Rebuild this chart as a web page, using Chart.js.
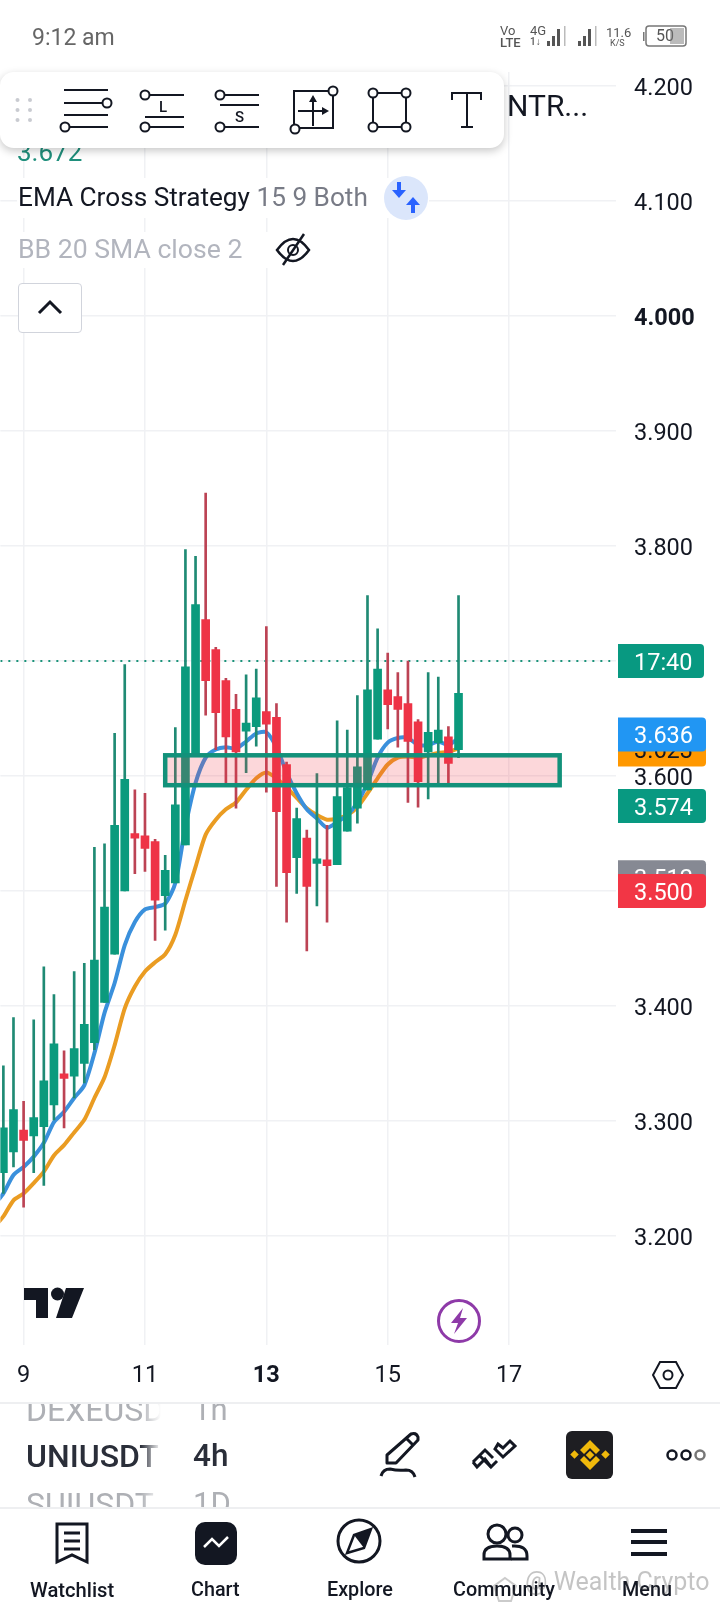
<!DOCTYPE html>
<html><head><meta charset="utf-8">
<script src="https://cdn.jsdelivr.net/npm/chart.js@4"></script>
<style>
html,body{margin:0;padding:0;background:#fff;width:720px;height:1611px;overflow:hidden;font-family:Roboto,sans-serif}
#c{position:absolute;left:0;top:0;width:720px;height:1611px}
.t{position:absolute;white-space:nowrap;line-height:1;color:#131722}
.w{background:#fff}
.card{position:absolute;left:0;top:72px;width:504px;height:76px;background:#fff;border-radius:14px;box-shadow:0 3px 8px rgba(0,0,0,.22)}
svg.ov{position:absolute;left:0;top:0;pointer-events:none}
.fade{width:135px;overflow:hidden;-webkit-mask-image:linear-gradient(90deg,#000 85%,transparent);mask-image:linear-gradient(90deg,#000 85%,transparent)}
</style></head><body>
<canvas id="c" width="720" height="1611"></canvas>

<div class="t" style="left:17px;top:139px;font-size:26px;color:#1f8f7c">3.672</div>
<div class="w" style="position:absolute;left:17px;top:178px;width:412px;height:40px"></div>
<div class="w" style="position:absolute;left:17px;top:232px;width:300px;height:36px"></div>
<div class="t" style="left:18px;top:184px;font-size:26.2px">EMA Cross Strategy <span style="color:#787b86">15 9 Both</span></div>
<div class="t" style="left:18px;top:236px;font-size:26.6px;color:#b2b5be">BB 20 SMA close 2</div>
<div style="position:absolute;left:18px;top:283px;width:64px;height:50px;border:1px solid #d1d4dc;border-radius:4px;background:#fff;box-sizing:border-box"></div>

<div class="card"></div>
<div class="t" style="left:507px;top:91px;font-size:30px">NTR...</div>

<div class="t" style="left:32px;top:26px;font-size:23px;color:#666">9:12 am</div>
<div class="t" style="left:500px;top:24px;font-size:13px;color:#555">Vo</div>
<div class="t" style="left:500px;top:36px;font-size:13px;color:#555;font-weight:500">LTE</div>
<div class="t" style="left:530px;top:24px;font-size:13px;color:#555">4G</div>
<div class="t" style="left:530px;top:37px;font-size:10px;color:#555;font-weight:500">1↓</div>
<div class="t" style="left:606px;top:26px;font-size:13px;color:#555">11.6</div>
<div class="t" style="left:610px;top:39px;font-size:9px;color:#555">K/S</div>
<div class="t" style="left:656px;top:28px;font-size:16px;color:#555">50</div>

<div style="position:absolute;left:0;top:1402px;width:720px;height:107px;overflow:hidden;border-top:2px solid #eeeff1;border-bottom:2px solid #eeeff1;box-sizing:border-box">
<div class="t fade" style="left:26px;top:-10px;font-size:32px;color:#aeb0b5">DEXEUSDT</div>
<div class="t" style="left:193px;top:-10px;font-size:31px;color:#aeb0b5">1h</div>
<div class="t fade" style="left:26px;top:36px;font-size:32px;font-weight:500;color:#2a2e39">UNIUSDT</div>
<div class="t" style="left:193px;top:36px;font-size:31.5px;font-weight:500;color:#2a2e39">4h</div>
<div class="t fade" style="left:26px;top:84px;font-size:32px;color:#aeb0b5">SUIUSDT</div>
<div class="t" style="left:193px;top:84px;font-size:31px;color:#aeb0b5">1D</div>
</div>

<div class="t" style="left:30px;top:1580px;font-size:20.2px;font-weight:500">Watchlist</div>
<div class="t" style="left:191px;top:1580px;font-size:19.8px;font-weight:500">Chart</div>
<div class="t" style="left:327px;top:1580px;font-size:19.8px;font-weight:500">Explore</div>
<div class="t" style="left:453px;top:1580px;font-size:19.8px;font-weight:500">Community</div>
<div class="t" style="left:622px;top:1580px;font-size:19.8px;font-weight:500">Menu</div>
<div class="t" style="left:525px;top:1569px;font-size:25px;color:rgba(70,70,70,.32)">@ Wealth Crypto</div>

<svg class="ov" width="720" height="1611" viewBox="0 0 720 1611" fill="none" stroke="#131722" stroke-width="2">
<!-- status bars -->
<g stroke="none" fill="#555"><rect x="547" y="41" width="3" height="5"/><rect x="552" y="36" width="3" height="10"/><rect x="557" y="29" width="3" height="17"/><rect x="564" y="26" width="1.5" height="20" fill="#bbb"/>
<rect x="578" y="41" width="3" height="5"/><rect x="583" y="36" width="3" height="10"/><rect x="588" y="29" width="3" height="17"/><rect x="595" y="26" width="1.5" height="20" fill="#bbb"/></g>
<rect x="646" y="26" width="40" height="20" rx="3" stroke="#777" stroke-width="1.5"/><rect x="670" y="28" width="14" height="16" fill="rgba(120,120,120,.5)" stroke="none"/><rect x="643" y="32" width="1.5" height="9" fill="#777" stroke="none"/>
<!-- drag dots -->
<g fill="#c9cbd1" stroke="none"><circle cx="17.5" cy="100" r="2"/><circle cx="30" cy="100" r="2"/><circle cx="17.5" cy="110" r="2"/><circle cx="30" cy="110" r="2"/><circle cx="17.5" cy="120" r="2"/><circle cx="30" cy="120" r="2"/></g>
<!-- tool 1 -->
<path d="M64 90H108M64 103H102M64 115H108M69 127H108"/><circle cx="107" cy="103" r="4.5" fill="#fff"/><circle cx="65" cy="127" r="4.5" fill="#fff"/>
<!-- tool 2 -->
<path d="M149 95H184M145 117H184M149 127H184"/><circle cx="145" cy="95" r="4.5" fill="#fff"/><circle cx="145" cy="127" r="4.5" fill="#fff"/>
<!-- tool 3 -->
<path d="M224 95H259M220 105H259M224 127H259"/><circle cx="220" cy="95" r="4.5" fill="#fff"/><circle cx="220" cy="127" r="4.5" fill="#fff"/>
<!-- tool 4 -->
<path d="M294 91H333V128H294ZM313 97V126M298 111H327"/><path d="M313 95l-4 7h8zM329 111l-7-4v8z" fill="#131722" stroke="none"/><circle cx="333" cy="91" r="4.5" fill="#fff"/><circle cx="295" cy="129" r="4.5" fill="#fff"/>
<!-- tool 5 -->
<rect x="373" y="93" width="33" height="34"/><circle cx="373" cy="93" r="4.5" fill="#fff"/><circle cx="406" cy="93" r="4.5" fill="#fff"/><circle cx="373" cy="127" r="4.5" fill="#fff"/><circle cx="406" cy="127" r="4.5" fill="#fff"/>
<!-- tool 6 -->
<path d="M452 100V93H481V100M467 93V127M461 127H473"/>
<!-- cross badge -->
<circle cx="406" cy="198" r="22" fill="#dbe6fb" stroke="none"/>
<path d="M399 182V192M413 203V213" stroke="#2962ff" stroke-width="4"/><path d="M392 190h14l-7 8zM406 205h14l-7-8z" fill="#2962ff" stroke="none"/>
<!-- eye -->
<path d="M277 250Q293 228 309 250Q293 272 277 250Z" stroke-width="2.5"/><path d="M283 265L304 234" stroke-width="2.5"/><circle cx="293" cy="250" r="5" stroke-width="2"/>
<!-- chevron -->
<path d="M39 313L50 302L61 313" stroke-width="3"/>
<!-- TV logo -->
<g fill="#131722" stroke="none"><path d="M24 1288H48V1318H36V1300H24Z"/><circle cx="57.5" cy="1294" r="6.5"/><path d="M66 1288H84L72 1318H56Z"/></g>
<!-- lightning -->
<circle cx="459" cy="1321" r="20.5" stroke="#8e3aa8" stroke-width="3"/><path d="M463 1308L451 1323H458L454 1334L467 1318H460Z" fill="#8e3aa8" stroke="none"/>
<!-- settings hex -->
<path d="M660 1362H676L683 1375L676 1388H660L653 1375Z" stroke-width="2"/><circle cx="668" cy="1375" r="4.5"/>
<!-- pencil -->
<path d="M387 1463V1455L411 1434Q416 1432 418 1437V1440L396 1463ZM406 1438L414 1446" stroke-width="3" stroke-linejoin="round"/><path d="M381 1476Q383 1469 390 1469Q398 1471 406 1470Q413 1470 415 1477" stroke-width="3"/>
<!-- tracks -->
<path d="M473 1462L485 1450L493 1458M491 1467L480 1456M495 1449L503 1457L515 1446L510 1441L503 1448L498 1444Z" stroke-width="3"/><path d="M473 1462L477 1467L485 1459L491 1467L497 1461" stroke-width="3"/>
<!-- binance -->
<rect x="566" y="1431" width="47" height="48" rx="6" fill="#1e1e22" stroke="none"/>
<g fill="#f0b90b" stroke="none"><path d="M590 1440L600 1450L596 1454L590 1448L584 1454L580 1450Z"/><path d="M590 1470L600 1460L596 1456L590 1462L584 1456L580 1460Z"/><rect x="571.5" y="1451.5" width="6" height="6" transform="rotate(45 574.5 1454.5)"/><rect x="602.5" y="1451.5" width="6" height="6" transform="rotate(45 605.5 1454.5)"/><rect x="587" y="1452" width="6" height="6" transform="rotate(45 590 1455)"/></g>
<!-- more -->
<g stroke-width="2.5"><circle cx="672" cy="1455" r="4.5"/><circle cx="686" cy="1455" r="4.5"/><circle cx="700" cy="1455" r="4.5" stroke="#777"/></g>
<!-- nav -->
<path d="M57 1524H87V1562L72 1555L57 1562Z" stroke-width="3"/><path d="M64 1533H80M64 1541H80M64 1549H80" stroke-width="3"/>
<rect x="195" y="1522" width="42" height="43" rx="10" fill="#131722" stroke="none"/><path d="M204 1547L212 1539L219 1546L228 1537" stroke="#fff" stroke-width="2.5"/>
<circle cx="359" cy="1541" r="21" stroke-width="3"/><path d="M371 1529L364 1548L347 1553L354 1535Z" stroke-width="2.5"/><path d="M371 1529L364 1548L354 1535Z" fill="#131722" stroke="none"/>
<circle cx="497" cy="1534" r="9" stroke-width="3"/><circle cx="515" cy="1535" r="7" stroke-width="3"/><path d="M484 1559V1555Q484 1546 497 1546Q510 1546 510 1555V1559Z" stroke-width="3"/><path d="M512 1546Q527 1545 527 1556V1559H511" stroke-width="3"/>
<path d="M631 1531H667M631 1542H667M631 1554H667" stroke-width="4"/>
<!-- watermark mark -->
<path d="M505 1578L516 1586L511 1601H499L494 1586Z" stroke="rgba(70,70,70,.28)" stroke-width="2"/>
</svg>
<div class="t" style="left:159px;top:100px;font-size:15px;font-weight:500">L</div>
<div class="t" style="left:235px;top:110px;font-size:15px;font-weight:500">S</div>

<script>
const candleIndex=[-2,-1,0,1,2,3,4,5,6,7,8,9,10,11,12,13,14,15,16,17,18,19,20,21,22,23,24,25,26,27,28,29,30,31,32,33,34,35,36,37,38,39,40,41,42,43];
const opens=[3.255,3.273,3.292,3.287,3.295,3.314,3.341,3.339,3.350,3.368,3.403,3.445,3.500,3.550,3.548,3.543,3.496,3.507,3.540,3.617,3.736,3.710,3.683,3.658,3.639,3.643,3.656,3.651,3.610,3.529,3.546,3.524,3.527,3.523,3.552,3.572,3.588,3.632,3.675,3.669,3.663,3.647,3.621,3.629,3.634,3.623];
const highs=[3.348,3.390,3.317,3.388,3.434,3.410,3.361,3.430,3.437,3.538,3.541,3.637,3.697,3.588,3.585,3.545,3.531,3.642,3.797,3.791,3.846,3.712,3.685,3.671,3.688,3.693,3.730,3.663,3.612,3.572,3.553,3.602,3.557,3.648,3.640,3.670,3.757,3.728,3.707,3.690,3.700,3.649,3.690,3.686,3.643,3.757];
const lows=[3.237,3.260,3.225,3.255,3.244,3.301,3.294,3.320,3.333,3.362,3.403,3.445,3.500,3.515,3.517,3.457,3.466,3.507,3.540,3.617,3.653,3.623,3.594,3.572,3.603,3.626,3.586,3.504,3.473,3.498,3.448,3.487,3.473,3.523,3.552,3.559,3.588,3.632,3.641,3.625,3.577,3.573,3.580,3.594,3.594,3.616];
const closes=[3.294,3.310,3.283,3.303,3.335,3.367,3.337,3.363,3.384,3.440,3.486,3.557,3.597,3.546,3.537,3.492,3.518,3.575,3.695,3.749,3.683,3.655,3.634,3.621,3.646,3.668,3.645,3.569,3.516,3.563,3.504,3.528,3.522,3.582,3.590,3.608,3.675,3.693,3.662,3.658,3.630,3.595,3.638,3.640,3.611,3.672];
const emaIndex=[-3].concat(candleIndex);
const emaFast=[3.226,3.237,3.253,3.260,3.269,3.281,3.299,3.308,3.320,3.331,3.359,3.394,3.420,3.453,3.473,3.484,3.486,3.489,3.507,3.556,3.594,3.616,3.623,3.625,3.624,3.630,3.637,3.638,3.625,3.603,3.585,3.571,3.563,3.555,3.560,3.566,3.577,3.594,3.616,3.629,3.633,3.633,3.627,3.627,3.630,3.627,3.633];
const emaSlow=[3.207,3.217,3.231,3.237,3.246,3.256,3.270,3.279,3.290,3.301,3.320,3.338,3.366,3.398,3.417,3.430,3.438,3.445,3.462,3.492,3.521,3.549,3.562,3.571,3.577,3.588,3.598,3.603,3.598,3.590,3.581,3.572,3.566,3.562,3.563,3.566,3.573,3.585,3.598,3.610,3.616,3.617,3.616,3.618,3.620,3.621,3.624];
const priceLine=3.7;
const boxRange=[14,53,3.592,3.618];
const tagLabels=["3.512","3.500","3.623","3.636","3.574","17:40"];
const tagValues=[3.512,3.5,3.623,3.636,3.574,3.7];
const tagColors=["#868993","#f23645","#ff9800","#2196f3","#089981","#089981"];
const tagInk=["#fff","#fff","#131722","#fff","#fff","#fff"];
const dayStart=9, candlesPerDay=6;

const GREEN="#0b9a7d",RED="#ee3346",GW="#1f8a74",RW="#bc4354";
const up=opens.map((o,i)=>closes[i]>=o);
const xMin=-2.3,xMax=58.57,yMin=3.1052,yMax=4.2122;

const overlay={id:"overlay",afterDatasetsDraw(ch){
  const c=ch.ctx,x=ch.scales.x,y=ch.scales.y;
  const l=x.getPixelForValue(boxRange[0]),r=x.getPixelForValue(boxRange[1]);
  const b=y.getPixelForValue(boxRange[2]),t=y.getPixelForValue(boxRange[3]);
  c.save();c.fillStyle="rgba(242,54,69,0.2)";c.fillRect(l,t,r-l,b-t);
  c.strokeStyle="#12917a";c.lineWidth=4.5;c.strokeRect(l,t,r-l,b-t);c.restore();
},afterDraw(ch){
  const c=ch.ctx,y=ch.scales.y;
  c.save();c.font="23.5px Roboto";c.textAlign="left";c.textBaseline="middle";
  tagLabels.forEach((s,i)=>{
    const p=y.getPixelForValue(tagValues[i]);
    c.fillStyle=tagColors[i];c.beginPath();c.roundRect(618,p-17,i==5?86:88,34,[0,4,4,0]);c.fill();
    c.fillStyle=tagInk[i];c.fillText(s,634,p+3);
  });
  c.restore();
}};

new Chart(document.getElementById("c"),{
  data:{datasets:[
    {type:"bar",order:1,grouped:false,barThickness:8,data:candleIndex.map((x,i)=>({x,y:[opens[i],closes[i]]})),backgroundColor:up.map(u=>u?GREEN:RED),borderWidth:0},
    {type:"bar",order:2,grouped:false,barThickness:2,data:candleIndex.map((x,i)=>({x,y:[lows[i],highs[i]]})),backgroundColor:up.map(u=>u?GW:RW),borderWidth:0},
    {type:"line",order:3,data:emaIndex.map((x,i)=>({x,y:emaFast[i]})),borderColor:"#3a90dc",borderWidth:4,pointRadius:0,tension:.25},
    {type:"line",order:4,data:emaIndex.map((x,i)=>({x,y:emaSlow[i]})),borderColor:"#ea9c22",borderWidth:4,pointRadius:0,tension:.25},
    {type:"line",order:5,data:[{x:xMin,y:priceLine},{x:58,y:priceLine}],borderColor:"#1a9379",borderWidth:2,borderDash:[2,6],pointRadius:0}
  ]},
  options:{responsive:false,animation:false,devicePixelRatio:1,
    layout:{padding:{top:72,bottom:209,left:0,right:0}},
    plugins:{legend:{display:false},tooltip:{enabled:false},title:{display:false}},
    scales:{
      x:{type:"linear",min:xMin,max:xMax,offset:false,border:{display:false},
        grid:{offset:false,color:"#f0f1f4",lineWidth:1.5,drawTicks:false},
        afterFit(s){s.height=57},
        ticks:{stepSize:12,includeBounds:false,autoSkip:false,maxRotation:0,padding:17,color:"#131722",
          font:ctx=>({family:"Roboto",size:23.5,weight:ctx.tick&&ctx.tick.value===24?"bold":"normal"}),
          callback:v=>String(dayStart+v/candlesPerDay)}},
      y:{type:"linear",position:"right",min:yMin,max:yMax,border:{display:false},
        grid:{color:"#f0f1f4",lineWidth:1.5,drawTicks:false},
        afterFit(s){s.width=104},
        afterBuildTicks(s){
          if(s._nudged)return;s._nudged=true;
          const f=s._computeLabelItems;
          s._computeLabelItems=function(a){const r=f.call(this,a);r.forEach(it=>{it.options.translation[1]+=3});return r};
        },
        ticks:{stepSize:.1,includeBounds:false,padding:18,align:"center",crossAlign:"near",color:"#131722",
          font:ctx=>({family:"Roboto",size:23.5,weight:ctx.tick&&Math.abs(ctx.tick.value-4)<1e-6?"bold":"normal"}),
          callback:v=>v.toFixed(3)}}
    }},
  plugins:[overlay]
});
</script>
</body></html>
